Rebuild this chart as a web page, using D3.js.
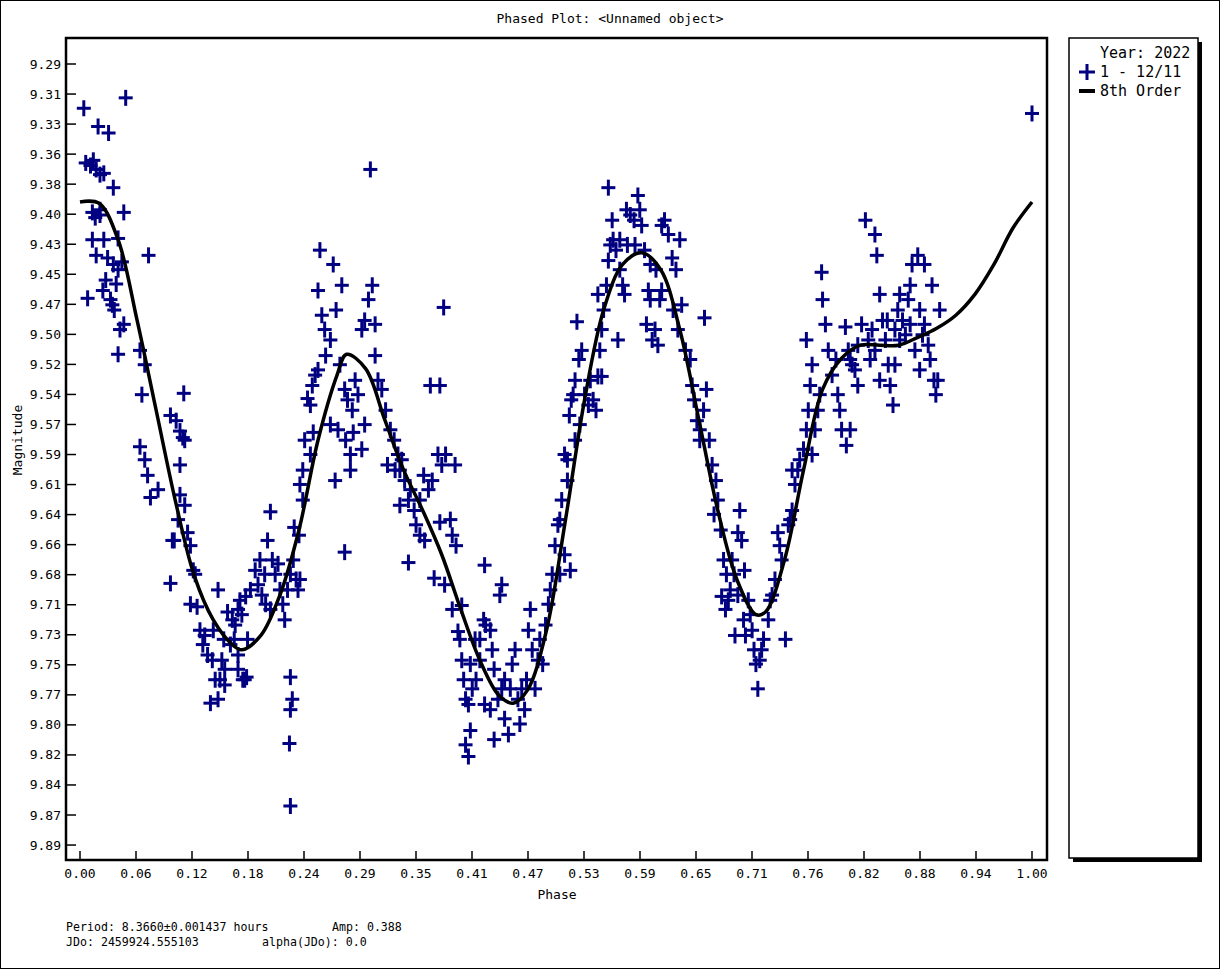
<!DOCTYPE html>
<html><head><meta charset="utf-8">
<script src="https://cdn.jsdelivr.net/npm/d3@7"></script>
<style>body{margin:0;background:#fff}text{font-family:"DejaVu Sans Mono",monospace;font-size:13px;fill:#000}</style>
</head><body><svg id="c" width="1220" height="969"></svg>
<script>
const xTickLabels=["0.00","0.06","0.12","0.18","0.24","0.29","0.35","0.41","0.47","0.53","0.59","0.65","0.71","0.76","0.82","0.88","0.94","1.00"];
const yTickLabels=["9.29","9.31","9.33","9.36","9.38","9.40","9.43","9.45","9.47","9.50","9.52","9.54","9.57","9.59","9.61","9.64","9.66","9.68","9.71","9.73","9.75","9.77","9.80","9.82","9.84","9.87","9.89"];
const fitCurve=[[0,9.396],[0.02,9.397],[0.04,9.425],[0.06,9.487],[0.08,9.556],[0.10,9.625],[0.12,9.683],[0.14,9.717],[0.16,9.736],[0.17,9.740],[0.19,9.729],[0.21,9.698],[0.23,9.648],[0.25,9.579],[0.27,9.529],[0.28,9.513],[0.30,9.524],[0.32,9.563],[0.34,9.602],[0.36,9.633],[0.38,9.667],[0.40,9.709],[0.42,9.748],[0.44,9.775],[0.455,9.781],[0.47,9.771],[0.49,9.725],[0.51,9.640],[0.53,9.548],[0.55,9.479],[0.57,9.444],[0.59,9.435],[0.61,9.448],[0.63,9.494],[0.65,9.563],[0.67,9.633],[0.69,9.686],[0.71,9.713],[0.72,9.711],[0.74,9.671],[0.76,9.602],[0.78,9.540],[0.80,9.516],[0.82,9.506],[0.84,9.506],[0.86,9.506],[0.88,9.500],[0.90,9.493],[0.92,9.483],[0.94,9.467],[0.96,9.444],[0.98,9.416],[1.00,9.396]];
const obsPhase=[0.004,0.011,0.014,0.017,0.021,0.025,0.019,0.030,0.035,0.013,0.016,0.021,0.025,0.013,0.029,0.035,0.008,0.027,0.032,0.036,0.042,0.040,0.044,0.040,0.046,0.048,0.040,0.024,0.017,0.038,0.006,0.021,0.034,0.046,
0.063,0.068,0.065,0.072,0.063,0.068,0.071,0.074,0.082,0.095,0.101,0.105,0.108,0.097,0.103,0.105,0.110,0.105,0.110,0.109,0.116,0.099,0.095,0.113,0.116,0.119,0.121,0.123,
0.126,0.131,0.129,0.134,0.139,0.142,0.137,0.145,0.147,0.152,0.149,0.152,0.145,0.155,0.160,0.163,0.166,0.168,0.170,0.174,0.158,0.166,0.173,0.179,0.176,0.162,0.151,0.140,0.166,0.175,0.171,
0.184,0.187,0.191,0.194,0.197,0.200,0.202,0.205,0.208,0.210,0.213,0.215,0.218,0.221,0.224,0.227,0.230,0.189,0.195,0.221,0.223,0.221,0.220,0.221,0.200,0.229,0.231,0.225,
0.231,0.234,0.236,0.239,0.242,0.244,0.247,0.250,0.252,0.250,0.254,0.257,0.258,0.263,0.266,0.269,0.275,0.273,0.278,0.281,0.286,0.289,0.292,0.296,0.299,0.303,0.307,0.310,0.305,0.245,0.242,0.279,0.284,0.268,0.287,0.299,0.296,0.263,0.271,0.234,0.278,0.284,
0.310,0.313,0.317,0.321,0.326,0.330,0.334,0.336,0.338,0.341,0.345,0.347,0.351,0.353,0.357,0.361,0.366,0.370,0.357,0.345,0.368,0.378,0.382,0.376,0.380,0.384,0.389,0.391,0.395,0.372,0.378,0.362,0.331,0.323,0.336,0.383,0.394,0.391,
0.397,0.399,0.401,0.403,0.405,0.408,0.410,0.405,0.408,0.412,0.416,0.420,0.424,0.426,0.431,0.433,0.435,0.425,0.431,0.435,0.439,0.443,0.446,0.450,0.454,0.457,0.460,0.462,0.464,0.469,0.471,0.473,0.475,0.478,0.481,0.483,0.425,0.443,0.441,0.415,0.401,0.420,0.446,0.489,0.492,0.494,0.486,0.452,0.467,0.410,
0.496,0.499,0.502,0.504,0.506,0.509,0.512,0.514,0.516,0.518,0.520,0.522,0.524,0.527,0.530,0.534,0.536,0.539,0.542,0.544,0.546,0.548,0.550,0.553,0.555,0.557,0.560,0.548,0.520,0.525,0.509,0.504,0.512,0.515,0.544,
0.555,0.559,0.563,0.567,0.570,0.574,0.578,0.582,0.586,0.588,0.590,0.593,0.597,0.599,0.601,0.604,0.607,0.609,0.611,0.614,0.618,0.622,0.626,0.630,0.632,0.628,0.636,0.567,0.575,0.565,0.572,0.583,0.595,0.611,0.623,0.656,0.599,0.605,
0.641,0.643,0.645,0.648,0.651,0.655,0.658,0.661,0.664,0.666,0.668,0.670,0.673,0.676,0.679,0.681,0.683,0.685,0.687,0.691,0.693,0.695,0.697,0.699,0.702,0.704,0.706,0.708,0.710,0.712,0.714,0.716,0.718,0.688,0.678,0.674,0.698,0.651,0.691,
0.723,0.725,0.727,0.730,0.733,0.735,0.737,0.741,0.744,0.746,0.748,0.751,0.754,0.756,0.760,0.763,0.765,0.767,0.769,0.772,0.775,0.777,0.780,0.783,0.786,0.779,0.790,0.794,0.796,0.763,0.769,0.748,0.798,0.800,0.805,0.809,
0.804,0.807,0.811,0.814,0.817,0.821,0.825,0.828,0.830,0.832,0.835,0.837,0.840,0.843,0.846,0.849,0.851,0.854,0.856,0.859,0.861,0.864,0.867,0.870,0.872,0.874,0.877,0.880,0.882,0.885,0.887,0.891,0.893,0.895,0.897,0.899,0.901,0.903,0.817,0.835,0.856,0.872,0.882,0.848,0.861,0.809,0.840,0.887,
1.000];
const obsMag=[9.324,9.368,9.364,9.371,9.375,9.374,9.338,9.343,9.385,9.404,9.408,9.406,9.425,9.425,9.439,9.444,9.470,9.456,9.471,9.479,9.494,9.513,9.442,9.424,9.404,9.316,9.448,9.464,9.437,9.459,9.366,9.402,9.475,9.490,
9.510,9.521,9.544,9.437,9.584,9.594,9.606,9.623,9.617,9.560,9.564,9.572,9.577,9.656,9.640,9.621,9.629,9.598,9.579,9.543,9.660,9.656,9.689,9.650,9.705,9.679,9.682,9.707,
9.725,9.729,9.736,9.744,9.748,9.763,9.781,9.778,9.763,9.755,9.748,9.767,9.694,9.711,9.717,9.721,9.709,9.702,9.713,9.699,9.736,9.744,9.763,9.694,9.732,9.732,9.732,9.725,9.755,9.761,9.763,
9.679,9.690,9.698,9.682,9.656,9.634,9.671,9.682,9.674,9.694,9.705,9.717,9.694,9.682,9.671,9.686,9.652,9.671,9.705,9.761,9.778,9.786,9.812,9.860,9.709,9.694,9.686,9.646,
9.613,9.602,9.579,9.547,9.552,9.537,9.529,9.525,9.433,9.464,9.483,9.494,9.514,9.502,9.444,9.479,9.460,9.521,9.540,9.548,9.556,9.533,9.544,9.494,9.487,9.471,9.460,9.490,9.371,9.573,9.590,9.579,9.590,9.610,9.573,9.567,9.586,9.567,9.571,9.625,9.665,9.602,
9.514,9.533,9.540,9.556,9.571,9.579,9.590,9.602,9.594,9.610,9.625,9.617,9.633,9.644,9.625,9.606,9.617,9.610,9.652,9.673,9.537,9.537,9.477,9.590,9.598,9.590,9.640,9.652,9.660,9.685,9.642,9.656,9.602,9.598,9.629,9.690,9.598,9.709,
9.726,9.732,9.748,9.763,9.778,9.782,9.802,9.813,9.822,9.770,9.763,9.732,9.717,9.721,9.725,9.740,9.755,9.782,9.786,9.809,9.778,9.770,9.793,9.805,9.751,9.740,9.778,9.797,9.770,9.763,9.725,9.709,9.740,9.770,9.748,9.732,9.675,9.690,9.698,9.732,9.706,9.748,9.763,9.721,9.705,9.694,9.751,9.770,9.786,9.751,
9.682,9.660,9.644,9.640,9.625,9.590,9.594,9.560,9.548,9.544,9.533,9.488,9.517,9.510,9.544,9.552,9.533,9.548,9.556,9.530,9.510,9.494,9.479,9.460,9.441,9.429,9.425,9.530,9.579,9.567,9.667,9.682,9.610,9.679,9.467,
9.385,9.410,9.433,9.448,9.460,9.402,9.406,9.410,9.391,9.402,9.414,9.433,9.464,9.471,9.502,9.494,9.506,9.471,9.414,9.410,9.421,9.439,9.448,9.425,9.475,9.494,9.510,9.425,9.429,9.502,9.467,9.429,9.490,9.464,9.479,9.485,9.444,9.448,
9.517,9.537,9.548,9.564,9.571,9.556,9.540,9.579,9.598,9.636,9.610,9.625,9.648,9.671,9.682,9.702,9.694,9.671,9.682,9.698,9.633,9.656,9.717,9.729,9.702,9.713,9.725,9.740,9.751,9.770,9.748,9.740,9.732,9.729,9.709,9.699,9.679,9.579,9.650,
9.717,9.702,9.698,9.686,9.650,9.660,9.671,9.732,9.644,9.640,9.633,9.613,9.602,9.594,9.586,9.571,9.556,9.537,9.521,9.571,9.556,9.544,9.471,9.490,9.510,9.450,9.529,9.517,9.544,9.502,9.590,9.602,9.556,9.571,9.583,9.571,
9.492,9.510,9.521,9.525,9.537,9.490,9.410,9.502,9.517,9.494,9.421,9.437,9.467,9.487,9.502,9.521,9.537,9.552,9.494,9.479,9.467,9.487,9.498,9.471,9.460,9.444,9.510,9.437,9.479,9.498,9.444,9.506,9.517,9.460,9.533,9.544,9.533,9.479,9.506,9.510,9.521,9.490,9.525,9.487,9.502,9.517,9.533,9.490,
9.328];

const svg=d3.select("#c");
svg.append("rect").attr("x",0.5).attr("y",0.5).attr("width",1219).attr("height",968).attr("fill","none").attr("stroke","#000");
const L=66,R=1047,T=38,B=860;
const step=0.6/26, pxStep=30.04;
const x=d3.scaleLinear().domain([0,1]).range([80,1032]);
const y=d3.scaleLinear().domain([9.29-(64-T)/pxStep*step, 9.29+(B-64)/pxStep*step]).range([T,B]);
const g=svg.append("g");
xTickLabels.forEach((t,i)=>{const px=x(i/17);
 g.append("line").attr("x1",px).attr("x2",px).attr("y1",B).attr("y2",B-9).attr("stroke","#000").attr("stroke-width",1.5);
 g.append("text").attr("x",px).attr("y",878).attr("text-anchor","middle").text(t);});
yTickLabels.forEach((t,i)=>{const py=y(9.29+i*step);
 g.append("line").attr("x1",L).attr("x2",L+10).attr("y1",py).attr("y2",py).attr("stroke","#000").attr("stroke-width",1.5);
 g.append("text").attr("x",61).attr("y",py+4.5).attr("text-anchor","end").text(t);});
const pts=obsPhase.map((p,i)=>[p,obsMag[i]]);
const cross=g.append("g").attr("stroke","#000080").attr("stroke-width",3);
pts.forEach(d=>{const cx=x(d[0]),cy=y(d[1]);
 cross.append("line").attr("x1",cx-7).attr("x2",cx+7).attr("y1",cy).attr("y2",cy);
 cross.append("line").attr("x1",cx).attr("x2",cx).attr("y1",cy-8).attr("y2",cy+8);});
g.append("path").datum(fitCurve).attr("fill","none").attr("stroke","#000").attr("stroke-width",3.5)
 .attr("d",d3.line().x(d=>x(d[0])).y(d=>y(d[1])).curve(d3.curveCatmullRom));
svg.append("rect").attr("x",L).attr("y",T).attr("width",R-L).attr("height",B-T).attr("fill","none").attr("stroke","#000").attr("stroke-width",2.5);
svg.append("rect").attr("x",1073).attr("y",42).attr("width",129).attr("height",820).attr("fill","#000");
svg.append("rect").attr("x",1069).attr("y",38).attr("width",129).attr("height",820).attr("fill","#fff").attr("stroke","#000").attr("stroke-width",1.5);
svg.append("text").attr("x",1100).attr("y",58).style("font-size","15px").text("Year: 2022");
svg.append("text").attr("x",1100).attr("y",77).style("font-size","15px").text("1 - 12/11");
svg.append("text").attr("x",1100).attr("y",96).style("font-size","15px").text("8th Order");
svg.append("line").attr("x1",1079).attr("x2",1095).attr("y1",72).attr("y2",72).attr("stroke","#000080").attr("stroke-width",3);
svg.append("line").attr("x1",1087).attr("x2",1087).attr("y1",64).attr("y2",80).attr("stroke","#000080").attr("stroke-width",3);
svg.append("line").attr("x1",1079).attr("x2",1095).attr("y1",91).attr("y2",91).attr("stroke","#000").attr("stroke-width",4);
svg.append("text").attr("x",610).attr("y",23).attr("text-anchor","middle").text("Phased Plot: <Unnamed object>");
svg.append("text").attr("x",557).attr("y",899).attr("text-anchor","middle").text("Phase");
svg.append("text").attr("transform","translate(22,440) rotate(-90)").attr("text-anchor","middle").text("Magnitude");
svg.append("text").attr("x",66).attr("y",931).style("font-size","11.6px").text("Period: 8.3660±0.001437 hours");
svg.append("text").attr("x",332).attr("y",931).style("font-size","11.6px").text("Amp: 0.388");
svg.append("text").attr("x",66).attr("y",946).style("font-size","11.6px").text("JDo: 2459924.555103");
svg.append("text").attr("x",262).attr("y",946).style("font-size","11.6px").text("alpha(JDo): 0.0");
</script></body></html>
